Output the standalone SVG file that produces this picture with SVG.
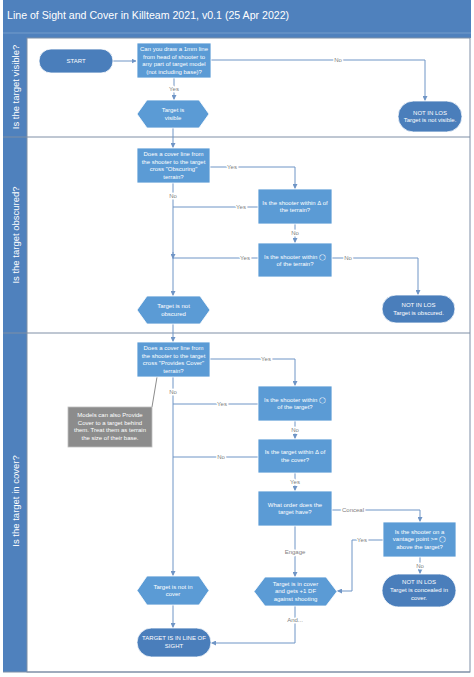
<svg xmlns="http://www.w3.org/2000/svg" width="474" height="677" viewBox="0 0 474 677">
<style>
.bg{fill:#ffffff}
.bar{fill:#4f81bd}
.box{fill:#5b9bd5;stroke:#ffffff;stroke-width:0.8}
.pill{fill:#4a7ebb;stroke:#ffffff;stroke-width:0.8}
.note{fill:#8c8c8c;stroke:#bfbfbf;stroke-width:0.8}
.t{font-family:"Liberation Sans",Arial,sans-serif;font-size:6px;fill:#ffffff;text-anchor:middle}
.tp{font-family:"Liberation Sans",Arial,sans-serif;font-size:6px;fill:#ffffff;text-anchor:middle}
.lane{font-family:"Liberation Sans",Arial,sans-serif;font-size:9.5px;fill:#ffffff;text-anchor:middle}
.title{font-family:"Liberation Sans",Arial,sans-serif;font-size:10.6px;fill:#ffffff}
.lbl{font-family:"Liberation Sans",Arial,sans-serif;font-size:6px;fill:#808080;text-anchor:middle;stroke:#ffffff;stroke-width:3px;paint-order:stroke;stroke-linejoin:round}
.conn{fill:none;stroke:#6f95c6;stroke-width:1}
.sep{fill:none;stroke:#7f8fa6;stroke-width:1}
</style>
<defs>
<marker id="arr" viewBox="0 0 10 10" refX="9" refY="5" markerWidth="5" markerHeight="5" orient="auto" markerUnits="userSpaceOnUse">
<path d="M0,0 L10,5 L0,10 z" fill="#6f95c6"/>
</marker>
</defs>
<rect class="bg" x="0" y="0" width="474" height="677"/>
<g id="frame">
<rect class="bar" x="3" y="0" width="468" height="38"/>
<line x1="3" y1="33" x2="471" y2="33" stroke="#7ea3cf" stroke-width="0.8"/>
<rect class="bar" x="3" y="38" width="24" height="634"/>
<rect x="27" y="38" width="443" height="634" fill="#ffffff" stroke="#7f8fa6" stroke-width="1"/>
<line class="sep" x1="3" y1="137" x2="470" y2="137"/>
<line class="sep" x1="3" y1="333" x2="470" y2="333"/>
<line class="sep" x1="3" y1="672" x2="470" y2="672"/>
<text class="title" x="7" y="19">Line of Sight and Cover in Killteam 2021, v0.1 (25 Apr 2022)</text>
</g>
<g id="lane1"><text class="lane" transform="translate(19,87) rotate(-90)">Is the target visible?</text></g>
<g id="lane2"><text class="lane" transform="translate(19,235) rotate(-90)">Is the target obscured?</text></g>
<g id="lane3"><text class="lane" transform="translate(19,501) rotate(-90)">Is the target in cover?</text></g>

<g id="connectors">
<path class="conn" d="M113,61 H136" marker-end="url(#arr)"/>
<path class="conn" d="M174,78 V99.5" marker-end="url(#arr)"/>
<path class="conn" d="M211,60 H425 V100.5" marker-end="url(#arr)"/>
<path class="conn" d="M173,128 V147.5" marker-end="url(#arr)"/>
<path class="conn" d="M210,167 H295 V188.5" marker-end="url(#arr)"/>
<path class="conn" d="M173,183 V295.5" marker-end="url(#arr)"/>
<path class="conn" d="M258,207 H173"/>
<path class="conn" d="M295,224 V242.5" marker-end="url(#arr)"/>
<path class="conn" d="M258,258 H173"/>
<path class="conn" d="M173,252 V258.5" marker-end="url(#arr)"/>
<path class="conn" d="M332,258 H418 V294.5" marker-end="url(#arr)"/>
<path class="conn" d="M173,324 V341.5" marker-end="url(#arr)"/>
<path class="conn" d="M210,359 H295 V385.5" marker-end="url(#arr)"/>
<path class="conn" d="M173,377 V575.5" marker-end="url(#arr)"/>
<path class="conn" d="M258,404 H173"/>
<path class="conn" d="M295,421 V438.5" marker-end="url(#arr)"/>
<path class="conn" d="M258,457 H173"/>
<path class="conn" d="M295,473 V490.5" marker-end="url(#arr)"/>
<path class="conn" d="M332,510 H420 V521.5" marker-end="url(#arr)"/>
<path class="conn" d="M383,540 H352 V591 H337.5" marker-end="url(#arr)"/>
<path class="conn" d="M420,557 V573.5" marker-end="url(#arr)"/>
<path class="conn" d="M295,526 V576.5" marker-end="url(#arr)"/>
<path class="conn" d="M295,606 V643 H211.5" marker-end="url(#arr)"/>
<path class="conn" d="M173,605 V627.5" marker-end="url(#arr)"/>
<path d="M152,407 L157,377" fill="none" stroke="#8c8c8c" stroke-width="1"/>
<text class="lbl" x="174" y="91">Yes</text>
<text class="lbl" x="338" y="62">No</text>
<text class="lbl" x="232" y="169">Yes</text>
<text class="lbl" x="173" y="198">No</text>
<text class="lbl" x="241" y="209">Yes</text>
<text class="lbl" x="295" y="235">No</text>
<text class="lbl" x="245" y="260">Yes</text>
<text class="lbl" x="348" y="260">No</text>
<text class="lbl" x="266" y="361">Yes</text>
<text class="lbl" x="173" y="394">No</text>
<text class="lbl" x="222" y="406">Yes</text>
<text class="lbl" x="295" y="432">No</text>
<text class="lbl" x="221" y="459">No</text>
<text class="lbl" x="295" y="484">Yes</text>
<text class="lbl" x="353" y="512">Conceal</text>
<text class="lbl" x="362" y="542">Yes</text>
<text class="lbl" x="420" y="568">No</text>
<text class="lbl" x="295" y="554">Engage</text>
<text class="lbl" x="295" y="622">And...</text>
</g>

<g id="start">
<rect class="pill" x="39" y="49" width="74" height="24" rx="12"/>
<text class="tp" x="76" y="63.2">START</text>
</g>
<g id="q-draw-line">
<rect class="box" x="137" y="43" width="74" height="35"/>
<text class="t" x="174" y="51">Can you draw a 1mm line</text>
<text class="t" x="174" y="58.7">from head of shooter to</text>
<text class="t" x="174" y="66.4">any part of target model</text>
<text class="t" x="174" y="74.1">(not including base)?</text>
</g>
<g id="visible">
<polygon class="box" points="137,114 147,100 199,100 209,114 199,128 147,128"/>
<text class="t" x="173" y="111.8">Target is</text>
<text class="t" x="173" y="119.5">visible</text>
</g>
<g id="not-los-visible">
<rect class="pill" x="398" y="101" width="64" height="31" rx="15.5"/>
<text class="tp" x="430" y="114.5">NOT IN LOS</text>
<text class="tp" x="430" y="122.3">Target is not visible.</text>
</g>

<g id="q-obscuring">
<rect class="box" x="137" y="148" width="73" height="35"/>
<text class="t" x="173.5" y="156">Does a cover line from</text>
<text class="t" x="173.5" y="163.7">the shooter to the target</text>
<text class="t" x="173.5" y="171.4">cross "Obscuring"</text>
<text class="t" x="173.5" y="179.1">terrain?</text>
</g>
<g id="q-shooter-triangle-terrain">
<rect class="box" x="258" y="189" width="74" height="35"/>
<text class="t" x="295" y="204.5">Is the shooter within Δ of</text>
<text class="t" x="295" y="212.2">the terrain?</text>
</g>
<g id="q-shooter-circle-terrain">
<rect class="box" x="258" y="243" width="74" height="34"/>
<text class="t" x="295" y="258.5">Is the shooter within ◯</text>
<text class="t" x="295" y="266.2">of the terrain?</text>
</g>
<g id="not-obscured">
<polygon class="box" points="137,310 147,296 200,296 210,310 200,324 147,324"/>
<text class="t" x="173.5" y="307.8">Target is not</text>
<text class="t" x="173.5" y="315.5">obscured</text>
</g>
<g id="not-los-obscured">
<rect class="pill" x="382" y="295" width="73" height="28" rx="14"/>
<text class="tp" x="418.5" y="306.8">NOT IN LOS</text>
<text class="tp" x="418.5" y="314.6">Target is obscured.</text>
</g>

<g id="q-provides-cover">
<rect class="box" x="137" y="342" width="73" height="35"/>
<text class="t" x="173.5" y="350">Does a cover line from</text>
<text class="t" x="173.5" y="357.7">the shooter to the target</text>
<text class="t" x="173.5" y="365.4">cross "Provides Cover"</text>
<text class="t" x="173.5" y="373.1">terrain?</text>
</g>
<g id="note">
<rect class="note" x="68" y="407" width="84" height="40"/>
<text class="t" x="110" y="417">Models can also Provide</text>
<text class="t" x="110" y="424.6">Cover to a target behind</text>
<text class="t" x="110" y="432.2">them. Treat them as terrain</text>
<text class="t" x="110" y="439.8">the size of their base.</text>
</g>
<g id="q-shooter-circle-target">
<rect class="box" x="258" y="386" width="74" height="35"/>
<text class="t" x="295" y="401.5">Is the shooter within ◯</text>
<text class="t" x="295" y="409.2">of the target?</text>
</g>
<g id="q-target-triangle-cover">
<rect class="box" x="258" y="439" width="74" height="34"/>
<text class="t" x="295" y="454">Is the target within Δ of</text>
<text class="t" x="295" y="461.7">the cover?</text>
</g>
<g id="q-order">
<rect class="box" x="258" y="491" width="74" height="35"/>
<text class="t" x="295" y="506.5">What order does the</text>
<text class="t" x="295" y="514.2">target have?</text>
</g>
<g id="q-vantage">
<rect class="box" x="383" y="522" width="73" height="35"/>
<text class="t" x="419.5" y="533.5">Is the shooter on a</text>
<text class="t" x="419.5" y="541.2">vantage point &gt;= ◯</text>
<text class="t" x="419.5" y="548.9">above the target?</text>
</g>
<g id="not-los-concealed">
<rect class="pill" x="382" y="574" width="74" height="33" rx="16.5"/>
<text class="tp" x="419" y="584">NOT IN LOS</text>
<text class="tp" x="419" y="592">Target is concealed in</text>
<text class="tp" x="419" y="600">cover.</text>
</g>
<g id="in-cover">
<polygon class="box" points="254,591.5 265,577 326,577 337,591.5 326,606 265,606"/>
<text class="t" x="295.5" y="585.5">Target is in cover</text>
<text class="t" x="295.5" y="593.2">and gets +1 DF</text>
<text class="t" x="295.5" y="600.9">against shooting</text>
</g>
<g id="not-in-cover">
<polygon class="box" points="137,590.5 147,576 199,576 209,590.5 199,605 147,605"/>
<text class="t" x="173" y="588.5">Target is not in</text>
<text class="t" x="173" y="596.2">cover</text>
</g>
<g id="in-los">
<rect class="pill" x="137" y="628" width="74" height="29" rx="14.5"/>
<text class="tp" x="174" y="640">TARGET IS IN LINE OF</text>
<text class="tp" x="174" y="648">SIGHT</text>
</g>
</svg>
